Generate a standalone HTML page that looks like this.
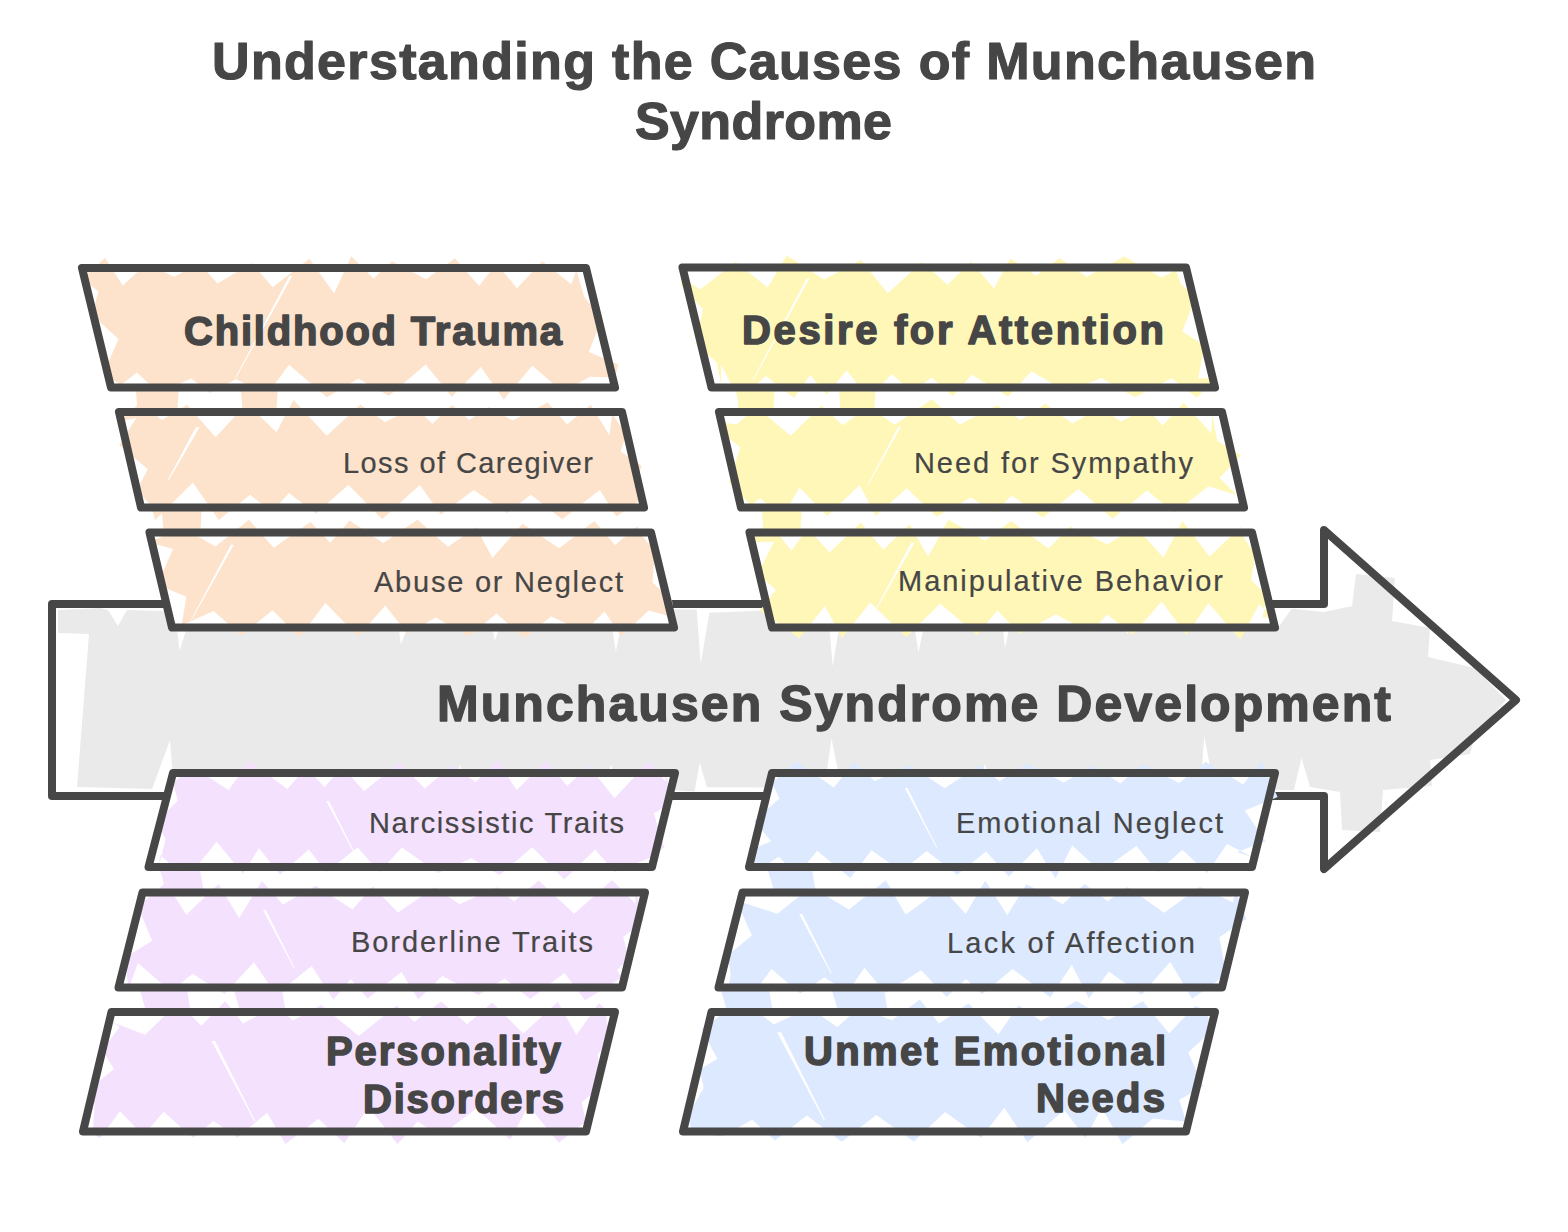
<!DOCTYPE html>
<html>
<head>
<meta charset="utf-8">
<title>Understanding the Causes of Munchausen Syndrome</title>
<style>
html,body{margin:0;padding:0;background:#fff;}
body{width:1568px;height:1232px;overflow:hidden;}
svg{display:block;}
text{font-family:"Liberation Sans",sans-serif;fill:#464646;stroke:#464646;stroke-width:0.2;stroke-linejoin:round;}
.b{font-weight:bold;stroke-width:1.2;}
.s40{stroke-width:1.5;}
.s50{stroke-width:1.4;}
.st{fill:none;stroke:#474747;stroke-width:8;stroke-linejoin:round;stroke-linecap:round;}
</style>
</head>
<body>
<svg width="1568" height="1232" viewBox="0 0 1568 1232">

  <text class="b s52" x="212.0" y="79" font-size="52" textLength="1104.0" lengthAdjust="spacing">Understanding the Causes of Munchausen</text>
  <text class="b s52" x="635.0" y="139" font-size="52" textLength="257.0" lengthAdjust="spacing">Syndrome</text>

  <!-- central arrow -->
  <path d="M58.0,610.0 L100.0,608.0 L108.0,610.0 L118.0,626.0 L127.0,610.0 L160.0,611.0 L175.0,610.3 L179.5,650.5 L192.6,610.6 L294.8,612.0 L299.7,638.1 L307.8,610.0 L396.8,611.7 L400.8,644.5 L415.3,609.0 L488.4,608.2 L494.9,640.8 L505.0,610.5 L609.7,610.3 L615.8,652.0 L624.5,609.6 L696.7,609.4 L700.7,664.0 L709.4,612.8 L828.0,608.0 L832.6,666.1 L842.1,610.8 L912.0,611.4 L918.5,652.5 L927.3,608.6 L1000.8,608.5 L1005.0,647.9 L1013.4,609.0 L1123.3,608.7 L1127.0,634.3 L1141.7,612.3 L1269.9,611.0 L1274.5,632.4 L1291.8,608.7 L1324.0,612.0 L1352.0,606.0 L1356.0,574.0 L1395.0,578.0 L1392.0,621.0 L1430.0,628.0 L1428.0,657.0 L1475.0,668.0 L1506.0,700.0 L1475.0,735.0 L1470.0,754.0 L1430.0,760.0 L1432.0,786.0 L1383.0,790.0 L1380.0,832.0 L1342.0,830.0 L1340.0,792.0 L1310.0,787.0 L1301.5,757.9 L1293.9,789.9 L1214.5,790.0 L1204.2,735.8 L1200.7,787.7 L1109.9,790.1 L1102.7,768.1 L1096.7,790.1 L992.4,790.4 L985.1,763.8 L978.5,787.2 L841.5,788.2 L831.5,738.5 L824.5,787.9 L706.9,787.3 L699.7,762.5 L694.6,791.6 L618.3,787.1 L610.8,764.4 L605.6,789.7 L467.7,787.5 L460.0,764.3 L456.3,791.6 L358.4,788.8 L349.9,771.4 L345.2,790.7 L259.7,792.0 L251.8,762.7 L249.0,791.6 L174.0,791.0 L170.0,740.0 L152.0,789.0 L77.0,787.0 L89.0,634.0 L58.0,633.0 Z" fill="#eaeaea"/>
  <path class="st" d="M52,604 L1324,604 L1324,530 L1516,700 L1324,869 L1324,796 L52,796 Z"/>

  <text class="b s50" x="437.0" y="721" font-size="50" textLength="954.0" lengthAdjust="spacing">Munchausen Syndrome Development</text>
  <!-- peach column -->
  <path d="M135.0,380 L179.0,383 L177.0,418 L138.0,416 Z" fill="#fde3cc"/>
  <path d="M240.0,380 L278.0,383 L276.0,418 L243.0,416 Z" fill="#fde3cc"/>
  <path d="M161.0,500 L202.0,503 L200.0,540 L164.0,538 Z" fill="#fde3cc"/>
  <path d="M82,268 L586,268 L615,387.5 L111,387.5 Z" fill="#fff"/>
  <path d="M82.0,278.0 L105.1,258.1 L122.7,285.6 L146.8,263.5 L173.9,276.7 L199.5,263.4 L217.5,283.6 L251.7,262.9 L272.6,287.3 L309.4,258.8 L334.1,293.6 L351.2,256.3 L373.5,278.6 L392.1,261.2 L426.1,279.3 L454.9,258.2 L479.1,285.9 L496.5,263.5 L517.0,288.2 L542.4,261.2 L571.3,284.2 L576.3,270.4 L584.5,297.5 L602.1,318.3 L588.8,352.1 L618.5,364.6 L615.0,377.5 L589.8,376.8 L563.0,391.9 L532.3,365.7 L503.7,399.4 L480.8,367.0 L451.8,396.7 L425.7,364.4 L388.9,395.8 L358.3,378.4 L326.9,397.3 L289.0,364.7 L266.8,395.0 L236.1,379.1 L209.9,393.0 L191.3,378.4 L158.4,392.7 L137.0,372.5 L120.7,385.1 L103.4,373.4 L118.5,339.0 L92.3,315.0 L98.4,291.4 Z" fill="#fde3cc"/>
  <path d="M289.3,276.1 L292.2,276.1 L236.4,377.3 L235.5,377.3 Z" fill="#fff"/>
  <path class="st" d="M82,268 L586,268 L615,387.5 L111,387.5 Z"/>
  <path d="M119,412 L622,412 L644,507.5 L141,507.5 Z" fill="#fff"/>
  <path d="M119.0,422.0 L140.1,402.7 L161.9,420.1 L187.1,404.7 L215.6,437.2 L246.8,403.4 L276.4,432.2 L293.6,399.9 L326.7,435.7 L360.3,404.5 L385.0,421.9 L415.0,407.4 L432.5,423.8 L452.1,404.9 L469.2,420.0 L488.5,407.1 L512.5,420.5 L547.8,402.5 L567.0,424.5 L590.7,404.7 L609.4,435.3 L612.3,414.2 L626.0,434.1 L620.7,451.5 L641.7,465.9 L634.3,485.0 L644.0,497.5 L616.4,516.4 L599.8,490.0 L562.3,519.3 L530.9,494.8 L506.9,513.0 L473.9,489.9 L440.8,514.5 L419.8,484.9 L382.2,519.2 L348.4,484.8 L316.2,513.5 L288.8,493.1 L272.1,511.8 L250.0,494.8 L218.8,520.1 L192.9,482.6 L155.2,520.1 L150.7,505.3 L136.8,490.0 L147.8,469.3 L119.2,445.0 L136.5,417.7 Z" fill="#fde3cc"/>
  <path d="M195.7,427.2 L199.7,427.2 L169.0,479.7 L167.8,479.7 Z" fill="#fff"/>
  <path class="st" d="M119,412 L622,412 L644,507.5 L141,507.5 Z"/>
  <path d="M149.5,532.5 L651,532.5 L674,627.5 L172,627.5 Z" fill="#fff"/>
  <path d="M149.5,542.5 L182.0,526.9 L215.4,546.5 L249.0,519.8 L273.7,547.7 L310.5,522.0 L330.3,542.8 L349.6,520.4 L383.3,543.1 L417.5,519.7 L448.0,546.8 L476.0,527.3 L492.4,558.0 L522.6,523.8 L559.2,548.3 L594.4,521.1 L615.0,545.0 L637.5,526.3 L641.3,534.9 L654.9,550.8 L652.5,582.6 L672.1,600.8 L674.0,617.5 L648.7,610.5 L621.0,636.2 L604.6,611.6 L584.6,631.5 L551.0,616.4 L524.6,638.0 L496.4,613.6 L469.0,636.5 L435.7,617.6 L407.4,633.7 L385.3,605.6 L358.1,636.6 L325.4,603.1 L299.6,637.0 L272.5,610.3 L241.3,635.6 L213.6,610.9 L181.7,625.2 L186.3,596.8 L157.5,584.4 L173.0,548.9 Z" fill="#fde3cc"/>
  <path d="M230.9,544.7 L233.8,544.7 L191.8,619.8 L191.0,619.8 Z" fill="#fff"/>
  <path class="st" d="M149.5,532.5 L651,532.5 L674,627.5 L172,627.5 Z"/>

  <text class="b s40" x="184.0" y="345" font-size="40" textLength="378.0" lengthAdjust="spacing">Childhood Trauma</text>
  <text x="343.0" y="473" font-size="29" textLength="250.0" lengthAdjust="spacing">Loss of Caregiver</text>
  <text x="374.0" y="592" font-size="29" textLength="249.0" lengthAdjust="spacing">Abuse or Neglect</text>
  <!-- yellow column -->
  <path d="M736.0,380 L775.0,383 L773.0,418 L739.0,416 Z" fill="#fff7b8"/>
  <path d="M838.0,380 L876.0,383 L874.0,418 L841.0,416 Z" fill="#fff7b8"/>
  <path d="M761.0,500 L802.0,503 L800.0,540 L764.0,538 Z" fill="#fff7b8"/>
  <path d="M682.5,267.5 L1186,267.5 L1215,387.5 L711.5,387.5 Z" fill="#fff"/>
  <path d="M682.5,277.5 L700.1,289.6 L735.8,262.1 L767.6,287.4 L786.7,255.6 L824.0,279.5 L861.0,259.9 L887.7,293.3 L922.0,262.0 L947.5,284.8 L971.0,261.7 L994.0,288.5 L1010.4,258.5 L1036.1,275.8 L1059.4,257.9 L1086.7,276.7 L1124.3,256.4 L1161.7,277.4 L1176.3,269.8 L1180.8,283.9 L1195.9,297.1 L1182.2,331.6 L1204.5,345.4 L1198.1,378.4 L1215.0,377.5 L1197.0,397.7 L1171.7,378.2 L1135.0,397.2 L1101.4,378.0 L1066.6,392.1 L1031.6,371.3 L1008.1,396.5 L971.7,374.7 L952.9,396.2 L931.6,377.5 L912.1,392.0 L891.6,373.9 L868.9,398.3 L846.6,370.5 L826.6,394.6 L810.2,375.0 L793.9,398.1 L765.8,376.1 L739.3,399.9 L721.0,364.8 L721.2,385.2 L716.9,362.6 L695.3,344.1 L703.1,309.6 L680.8,285.1 Z" fill="#fff7b8"/>
  <path d="M806.7,278.4 L809.4,278.4 L753.4,380.2 L752.5,380.2 Z" fill="#fff"/>
  <path class="st" d="M682.5,267.5 L1186,267.5 L1215,387.5 L711.5,387.5 Z"/>
  <path d="M719,412 L1222,412 L1244,507.5 L741,507.5 Z" fill="#fff"/>
  <path d="M719.0,422.0 L736.6,424.6 L756.1,407.2 L790.7,435.7 L821.4,405.5 L842.7,425.3 L868.8,406.6 L894.7,424.7 L931.8,399.2 L959.8,424.4 L997.1,405.2 L1020.9,420.0 L1045.3,403.7 L1072.4,423.6 L1099.5,408.0 L1121.3,421.6 L1146.1,407.6 L1162.6,425.5 L1183.7,402.7 L1211.4,433.5 L1212.3,414.2 L1217.3,440.7 L1241.1,455.6 L1219.6,477.7 L1240.5,499.1 L1244.0,497.5 L1208.4,486.3 L1174.5,512.8 L1147.0,490.4 L1112.6,518.7 L1078.4,489.0 L1042.8,517.6 L1011.5,495.4 L994.9,512.7 L970.9,497.6 L936.5,516.5 L906.7,488.2 L875.7,515.9 L859.7,485.1 L827.2,516.0 L799.4,487.6 L782.0,518.1 L760.4,498.2 L750.7,505.3 L728.9,482.4 L740.4,447.4 L720.0,430.7 Z" fill="#fff7b8"/>
  <path d="M898.5,426.6 L901.1,426.6 L867.7,486.1 L866.9,486.1 Z" fill="#fff"/>
  <path class="st" d="M719,412 L1222,412 L1244,507.5 L741,507.5 Z"/>
  <path d="M749.5,532.5 L1252,532.5 L1275,627.5 L772,627.5 Z" fill="#fff"/>
  <path d="M749.5,542.5 L768.7,521.8 L791.4,550.7 L807.7,528.0 L829.6,552.6 L860.9,522.4 L883.3,549.8 L909.5,524.3 L928.1,556.6 L948.5,519.7 L985.1,540.8 L1011.2,521.1 L1048.5,548.6 L1070.4,526.6 L1107.2,544.3 L1136.0,527.2 L1163.5,557.6 L1182.4,521.1 L1209.6,556.5 L1241.1,526.4 L1242.3,534.9 L1255.4,555.1 L1251.0,579.7 L1266.9,595.8 L1262.6,617.6 L1275.0,617.5 L1259.0,604.4 L1240.3,639.8 L1208.6,603.3 L1186.3,634.8 L1161.6,601.5 L1132.7,634.7 L1107.2,614.5 L1090.2,632.4 L1055.8,614.4 L1019.2,633.7 L997.4,610.3 L977.2,634.9 L940.2,603.6 L906.3,637.2 L870.2,602.6 L842.1,638.0 L825.0,606.3 L799.1,638.3 L781.7,625.2 L759.6,610.8 L776.0,590.1 L757.9,573.7 L773.9,541.8 Z" fill="#fff7b8"/>
  <path d="M911.1,542.7 L914.4,542.7 L877.3,608.1 L876.3,608.1 Z" fill="#fff"/>
  <path class="st" d="M749.5,532.5 L1252,532.5 L1275,627.5 L772,627.5 Z"/>

  <text class="b s40" x="742.0" y="344" font-size="40" textLength="422.0" lengthAdjust="spacing">Desire for Attention</text>
  <text x="914.0" y="473" font-size="29" textLength="279.0" lengthAdjust="spacing">Need for Sympathy</text>
  <text x="898.0" y="591" font-size="29" textLength="325.0" lengthAdjust="spacing">Manipulative Behavior</text>
  <!-- purple column -->
  <path d="M157.0,860 L199.0,863 L205.0,900 L168.0,898 Z" fill="#f4e1fe"/>
  <path d="M137.0,980 L186.0,983 L192.0,1020 L148.0,1018 Z" fill="#f4e1fe"/>
  <path d="M231.0,980 L281.0,983 L287.0,1020 L242.0,1018 Z" fill="#f4e1fe"/>
  <path d="M173,773 L675,773 L652,867 L148.5,867 Z" fill="#fff"/>
  <path d="M173.0,783.0 L192.7,767.1 L228.6,789.9 L249.5,760.8 L287.4,789.1 L306.4,767.3 L324.4,787.2 L342.4,766.8 L364.1,791.3 L399.6,762.3 L424.7,788.4 L452.3,765.6 L475.7,782.1 L497.8,760.3 L516.6,790.1 L546.4,761.2 L567.2,785.9 L588.6,765.4 L614.5,798.2 L649.1,761.1 L665.6,781.6 L665.3,770.6 L672.2,803.3 L653.8,813.2 L664.1,847.3 L652.0,857.0 L614.6,872.0 L595.2,849.6 L564.2,879.5 L532.3,847.3 L499.5,875.1 L471.4,858.3 L438.2,873.1 L401.9,847.4 L379.2,872.2 L357.7,847.5 L326.3,872.0 L308.8,849.6 L280.0,874.5 L259.0,848.2 L242.8,873.7 L216.7,841.7 L186.5,879.0 L160.0,854.8 L158.2,869.5 L165.6,839.1 L156.7,821.9 L177.8,800.4 Z" fill="#f4e1fe"/>
  <path d="M326.4,801.2 L329.0,801.2 L357.3,857.8 L356.5,857.8 Z" fill="#fff"/>
  <path class="st" d="M173,773 L675,773 L652,867 L148.5,867 Z"/>
  <path d="M142.5,892.5 L645,892.5 L622,987.5 L118.5,987.5 Z" fill="#fff"/>
  <path d="M142.5,902.5 L165.9,882.4 L186.3,914.8 L218.6,884.0 L239.1,918.0 L261.9,881.1 L283.0,904.5 L315.7,885.8 L352.7,909.4 L372.8,886.5 L398.0,912.5 L434.8,887.2 L459.5,904.3 L496.9,887.2 L514.1,901.6 L538.7,880.4 L574.2,913.7 L612.1,880.1 L635.4,903.8 L635.3,890.1 L643.7,920.4 L623.2,936.9 L628.8,958.8 L616.9,970.3 L622.0,977.5 L585.0,1000.2 L564.4,973.1 L530.3,998.9 L504.8,978.6 L478.4,994.9 L442.2,976.0 L418.2,999.6 L401.5,972.1 L367.6,998.4 L350.7,978.9 L333.4,999.8 L311.7,966.0 L275.9,994.6 L254.0,962.3 L224.4,993.9 L192.6,973.8 L170.6,991.5 L137.9,963.0 L128.2,989.9 L125.5,957.3 L152.2,940.8 L137.1,904.8 Z" fill="#f4e1fe"/>
  <path d="M263.1,910.3 L266.0,910.3 L294.9,968.5 L294.0,968.5 Z" fill="#fff"/>
  <path class="st" d="M142.5,892.5 L645,892.5 L622,987.5 L118.5,987.5 Z"/>
  <path d="M111.5,1012 L615,1012 L586,1131.5 L83,1131.5 Z" fill="#fff"/>
  <path d="M111.5,1022.0 L145.2,1034.8 L178.2,1002.5 L201.4,1025.8 L225.3,1001.0 L243.1,1023.6 L275.6,1005.8 L293.1,1020.6 L321.2,1005.1 L358.8,1035.9 L396.5,1005.6 L414.4,1021.7 L441.3,1001.6 L467.2,1024.2 L492.3,1002.4 L523.2,1033.5 L557.8,1002.0 L576.5,1035.1 L598.9,1002.9 L605.3,1009.6 L609.3,1038.7 L597.7,1054.8 L601.4,1086.5 L581.7,1102.2 L586.0,1121.5 L558.8,1142.8 L528.5,1105.7 L510.2,1139.8 L476.2,1108.4 L440.1,1135.9 L417.6,1121.4 L397.4,1144.3 L368.6,1106.8 L344.4,1143.3 L318.5,1118.8 L285.4,1144.0 L267.1,1112.8 L237.5,1137.5 L213.4,1121.0 L192.9,1137.8 L163.7,1111.8 L143.2,1135.6 L120.0,1111.3 L99.9,1138.3 L92.7,1133.8 L94.6,1105.1 L91.0,1088.0 L113.9,1068.9 L102.6,1050.1 L119.6,1026.9 Z" fill="#f4e1fe"/>
  <path d="M211.5,1040.9 L215.1,1040.9 L255.3,1121.1 L254.2,1121.1 Z" fill="#fff"/>
  <path class="st" d="M111.5,1012 L615,1012 L586,1131.5 L83,1131.5 Z"/>

  <text x="369.0" y="833" font-size="29" textLength="255.0" lengthAdjust="spacing">Narcissistic Traits</text>
  <text x="351.0" y="952" font-size="29" textLength="242.0" lengthAdjust="spacing">Borderline Traits</text>
  <text class="b s40" x="326.0" y="1065" font-size="40" textLength="235.0" lengthAdjust="spacing">Personality</text>
  <text class="b s40" x="363.0" y="1113" font-size="40" textLength="201.0" lengthAdjust="spacing">Disorders</text>
  <!-- blue column -->
  <path d="M765.0,860 L811.0,863 L817.0,900 L776.0,898 Z" fill="#dce9fe"/>
  <path d="M718.0,980 L768.0,983 L774.0,1020 L729.0,1018 Z" fill="#dce9fe"/>
  <path d="M829.0,980 L883.0,983 L889.0,1020 L840.0,1018 Z" fill="#dce9fe"/>
  <path d="M772,773 L1275,773 L1252,867 L749,867 Z" fill="#fff"/>
  <path d="M772.0,783.0 L795.9,761.2 L833.8,787.5 L854.1,762.4 L874.6,781.1 L910.4,765.2 L944.5,788.3 L979.9,764.9 L999.5,781.3 L1027.6,763.2 L1063.6,782.6 L1093.3,765.7 L1120.4,783.6 L1142.7,764.3 L1179.0,783.0 L1205.8,761.8 L1243.1,784.6 L1261.9,760.5 L1265.3,770.6 L1277.6,797.0 L1244.9,810.6 L1265.5,841.5 L1237.0,852.0 L1252.0,857.0 L1227.1,844.1 L1207.1,873.0 L1182.3,849.7 L1157.8,872.1 L1136.4,846.0 L1100.7,871.4 L1072.3,845.4 L1055.5,878.5 L1036.9,848.2 L1008.8,876.6 L986.0,851.4 L957.2,874.8 L926.7,851.0 L901.1,871.2 L871.5,850.2 L850.3,877.9 L817.1,850.8 L797.2,875.3 L778.8,856.7 L758.7,869.4 L749.2,850.9 L771.2,841.2 L754.0,821.0 L779.4,798.4 Z" fill="#dce9fe"/>
  <path d="M904.7,788.1 L907.5,788.1 L937.2,847.7 L936.4,847.7 Z" fill="#fff"/>
  <path class="st" d="M772,773 L1275,773 L1252,867 L749,867 Z"/>
  <path d="M742.5,892.5 L1245,892.5 L1222,987.5 L718.5,987.5 Z" fill="#fff"/>
  <path d="M742.5,902.5 L777.4,913.7 L811.3,886.8 L848.9,909.4 L885.9,880.3 L905.6,914.7 L942.0,887.9 L965.8,914.1 L985.2,880.4 L1007.3,915.2 L1026.5,884.0 L1062.7,904.2 L1084.5,883.9 L1107.5,901.2 L1127.5,887.0 L1164.1,912.7 L1199.8,887.0 L1233.1,902.6 L1235.3,890.1 L1246.4,919.0 L1219.3,937.2 L1225.5,969.4 L1222.0,977.5 L1192.1,998.7 L1170.3,961.7 L1141.6,994.7 L1108.8,971.5 L1088.9,998.2 L1071.8,964.7 L1050.3,997.3 L1012.6,969.0 L982.0,994.3 L966.0,978.9 L946.7,997.0 L921.2,970.3 L885.5,992.7 L864.5,967.7 L848.0,991.5 L824.2,977.6 L800.3,993.5 L771.5,968.9 L751.0,997.1 L728.2,989.9 L730.7,973.6 L727.5,955.6 L751.9,935.5 L737.4,902.9 Z" fill="#dce9fe"/>
  <path d="M799.1,914.0 L802.3,914.0 L831.8,973.6 L830.8,973.6 Z" fill="#fff"/>
  <path class="st" d="M742.5,892.5 L1245,892.5 L1222,987.5 L718.5,987.5 Z"/>
  <path d="M711.5,1012 L1215,1012 L1186,1131.5 L683,1131.5 Z" fill="#fff"/>
  <path d="M711.5,1022.0 L741.7,999.6 L773.8,1024.5 L809.7,1007.6 L837.4,1027.3 L858.6,1007.5 L891.8,1020.2 L919.9,999.5 L939.0,1023.6 L968.4,1003.4 L998.5,1034.6 L1018.4,1005.2 L1041.0,1020.9 L1076.5,1001.0 L1108.3,1020.1 L1142.8,1001.3 L1169.1,1033.4 L1195.0,1006.0 L1205.3,1009.6 L1212.4,1030.1 L1188.2,1052.5 L1203.0,1086.2 L1179.3,1099.7 L1186.0,1121.5 L1152.7,1118.7 L1122.5,1144.2 L1101.8,1107.7 L1085.4,1137.8 L1064.2,1110.1 L1027.4,1142.2 L1004.3,1107.7 L981.0,1137.7 L945.1,1112.1 L913.8,1141.5 L876.3,1115.0 L841.8,1141.8 L806.9,1115.6 L775.0,1140.6 L752.2,1119.7 L722.5,1136.2 L692.7,1133.8 L687.7,1115.5 L703.9,1087.8 L699.5,1069.8 L717.3,1058.8 L701.6,1029.0 Z" fill="#dce9fe"/>
  <path d="M777.0,1032.2 L781.2,1032.2 L825.2,1120.4 L824.0,1120.4 Z" fill="#fff"/>
  <path class="st" d="M711.5,1012 L1215,1012 L1186,1131.5 L683,1131.5 Z"/>

  <text x="956.0" y="833" font-size="29" textLength="267.0" lengthAdjust="spacing">Emotional Neglect</text>
  <text x="947.0" y="953" font-size="29" textLength="248.0" lengthAdjust="spacing">Lack of Affection</text>
  <text class="b s40" x="804.0" y="1065" font-size="40" textLength="362.0" lengthAdjust="spacing">Unmet Emotional</text>
  <text class="b s40" x="1036.0" y="1112" font-size="40" textLength="129.0" lengthAdjust="spacing">Needs</text>
</svg>
</body>
</html>
